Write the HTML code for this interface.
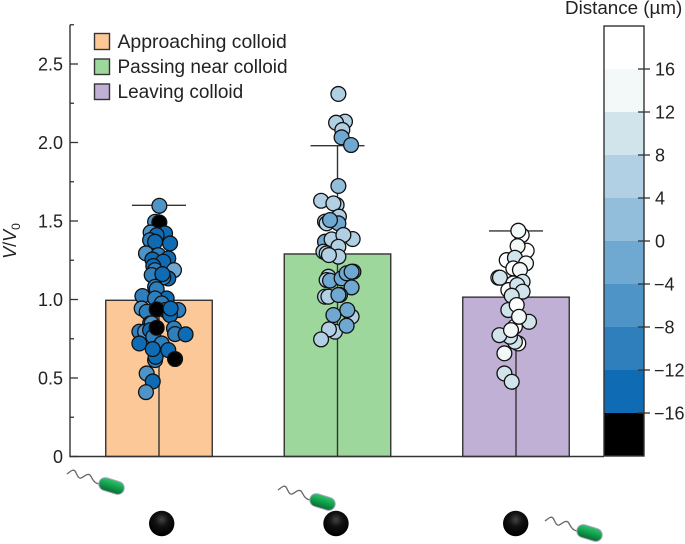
<!DOCTYPE html>
<html>
<head>
<meta charset="utf-8">
<style>
html,body{margin:0;padding:0;background:#fff;}
svg{display:block;font-family:"Liberation Sans",sans-serif;}
text{fill:#222;}
</style>
</head>
<body>
<svg id="chart" xmlns="http://www.w3.org/2000/svg" width="685" height="544" viewBox="0 0 685 544">
<defs>
<radialGradient id="ball-shade" cx="50%" cy="35%" r="60%">
<stop offset="0" stop-color="#444"/><stop offset="0.45" stop-color="#111"/><stop offset="1" stop-color="#000"/>
</radialGradient>
<linearGradient id="body-shade" x1="0" y1="0" x2="0" y2="1">
<stop offset="0" stop-color="#2fc46c"/><stop offset="0.55" stop-color="#0f9a48"/><stop offset="1" stop-color="#0a6a34"/>
</linearGradient>
</defs>
<g id="bars"></g>
<g id="errors"></g>
<g id="dots"></g>
<g id="axis"></g>
<g id="colorbar"></g>
<text x="565" y="14" font-size="18.800">Distance (µm)</text>
<text transform="translate(16,241) rotate(-90)" font-size="18" text-anchor="middle"><tspan font-style="italic">V</tspan>/<tspan font-style="italic">V</tspan><tspan font-size="12" dy="4">0</tspan></text>

<g>
<rect x="94.500" y="33.500" width="15" height="16" fill="#fdc897" stroke="#333" stroke-width="1.400"/>
<text x="117.500" y="48" font-size="19.400">Approaching colloid</text>
<rect x="94.500" y="59" width="15" height="15.500" fill="#9dd79c" stroke="#333" stroke-width="1.400"/>
<text x="117.500" y="73" font-size="19">Passing near colloid</text>
<rect x="94.500" y="84" width="15" height="15.500" fill="#c0b0d6" stroke="#333" stroke-width="1.400"/>
<text x="117.500" y="98" font-size="19">Leaving colloid</text>
</g>

<g>
<path d="M67 474 C71 471 73 469 75 471 C77 474 78 479 81 478 C84 477 87 473 90 475 C92 477 93 483 99 484" fill="none" stroke="#666" stroke-width="1.300"/>
<rect x="98.500" y="479.500" width="26" height="13" rx="6.500" transform="rotate(17 111.500 486)" fill="url(#body-shade)" stroke="#aab" stroke-width="1"/>
<circle cx="161.700" cy="523.500" r="12.700" fill="url(#ball-shade)"/>
</g>
<g>
<path d="M278 490 C282 487 284 485 286 487 C288 490 289 495 292 494 C295 493 298 489 301 491 C303 493 304 499 310 500" fill="none" stroke="#666" stroke-width="1.300"/>
<rect x="309.500" y="495.500" width="26" height="13" rx="6.500" transform="rotate(17 322.500 502)" fill="url(#body-shade)" stroke="#aab" stroke-width="1"/>
<circle cx="336" cy="523.500" r="12.700" fill="url(#ball-shade)"/>
</g>
<g>
<path d="M545 521 C549 518 551 516 553 518 C555 521 556 526 559 525 C562 524 565 520 568 522 C570 524 571 530 577 531" fill="none" stroke="#666" stroke-width="1.300"/>
<rect x="576.500" y="526.500" width="26" height="13" rx="6.500" transform="rotate(17 589.500 533)" fill="url(#body-shade)" stroke="#aab" stroke-width="1"/>
<circle cx="515.700" cy="523.500" r="12.700" fill="url(#ball-shade)"/>
</g>
</svg>
<script>
var barCategories = ['approaching', 'passing', 'leaving'];
var barMeans = [0.995, 1.29, 1.015];
var barColors = ['#fdc897', '#9dd79c', '#c0b0d6'];
var errorTops = [1.6, 1.98, 1.437];
var yTicks = [0, 0.5, 1.0, 1.5, 2.0, 2.5];
var yTickLabels = ['0', '0.5', '1.0', '1.5', '2.0', '2.5'];
var yMinorTicks = [0.25, 0.75, 1.25, 1.75, 2.25, 2.75];
var distanceTicks = [16, 12, 8, 4, 0, -4, -8, -12, -16];
var distanceTickLabels = ['16', '12', '8', '4', '0', '\u22124', '\u22128', '\u221212', '\u221216'];
var binEdges = [16, 12, 8, 4, 0, -4, -8, -12, -16];
var binColors = ['#ffffff', '#f3f9f8', '#d1e4ec', '#b2d0e4', '#92bedb', '#6fa9d2', '#4f94c7', '#2f7fbd', '#0f6cb4', '#000000'];

var approachJitter = [0.002,-0.022,0.002,-0.047,0.034,-0.013,-0.05,-0.022,0.062,-0.073,-0.004,0.052,-0.037,0.024,0.084,-0.032,-0.022,-0.041,0.052,0.024,0.019,-0.022,-0.013,-0.093,0.043,-0.022,0.015,-0.097,-0.069,0.108,0.034,0.062,-0.013,0.065,-0.05,-0.041,0.084,-0.11,-0.078,0.09,-0.05,0.149,-0.032,-0.11,0.015,-0.022,-0.019,0.052,-0.035,0.09,-0.069,-0.035,-0.073,-0.013];
var approachValues = [1.597,1.495,1.491,1.427,1.421,1.41,1.378,1.368,1.357,1.294,1.283,1.262,1.255,1.241,1.187,1.213,1.187,1.156,1.134,1.141,1.162,1.081,1.066,1.022,1.007,1.007,0.975,0.943,0.922,0.933,0.933,0.901,0.937,0.943,0.848,0.848,0.816,0.795,0.795,0.78,0.805,0.778,0.763,0.72,0.72,0.614,0.635,0.678,0.684,0.621,0.529,0.478,0.41,0.82];
var approachDistance = [-6,-6,-18,-6,-14,-14,-10,-14,-14,-6,-10,-14,-14,-14,-2,-14,-10,-10,-14,-10,-14,-10,-10,-10,-14,-10,-10,-6,-10,-10,-10,-14,-18,-14,-10,-6,-10,-10,-6,-10,-14,-14,-10,-14,-10,-10,-14,-14,-14,-18,-6,-14,-6,-18];

var passingJitter = [0.005,0.042,-0.008,0.027,0.023,0.076,0.005,-0.092,-0.005,-0.023,0.008,-0.07,-0.061,0.005,-0.042,-0.07,-0.033,0.085,0.033,0.005,-0.079,-0.061,0.005,-0.048,-0.051,-0.061,-0.042,0.023,0.051,0.089,0.079,0.079,-0.07,-0.051,0.014,0.005,0.079,-0.023,0.055,-0.014,0.051,-0.048,-0.092];
var passingValues = [2.309,2.133,2.126,2.08,2.033,1.984,1.723,1.629,1.602,1.612,1.528,1.496,1.485,1.485,1.506,1.368,1.383,1.385,1.411,1.336,1.305,1.294,1.273,1.283,1.145,1.124,1.12,1.135,1.167,1.177,1.177,1.077,1.018,1.018,1.029,1.029,0.891,0.901,0.933,0.795,0.833,0.81,0.746];
var passingDistance = [6,6,6,6,-2,-2,2,6,6,6,6,6,6,-2,-2,-2,6,6,6,6,6,6,6,6,6,6,-2,-2,-2,-2,-2,-2,6,6,-2,-2,6,-2,-2,6,-2,6,6];

var leavingJitter = [0.032,0.013,0.06,0.009,-0.052,-0.006,0.056,-0.015,0.022,-0.099,-0.09,0.037,-0.015,-0.043,0.007,0.037,-0.024,-0.043,0.004,0.073,-0.006,0.017,0.013,-0.006,-0.034,-0.093,-0.028,-0.065,-0.065,-0.024];
var leavingValues = [1.41,1.438,1.311,1.34,1.251,1.266,1.23,1.198,1.188,1.139,1.139,1.113,1.103,1.06,1.092,1.05,1.024,0.933,0.965,0.858,0.827,0.89,0.72,0.731,0.763,0.773,0.805,0.657,0.529,0.476];
var leavingDistance = [18,14,18,14,18,10,14,18,14,18,10,10,14,18,10,10,10,10,18,10,18,14,18,10,10,10,14,14,10,10];

var NS = 'http://www.w3.org/2000/svg';
function yScale(v) { return 456.5 - v * 157; }
function xScale(c) { return 159 + c * 178.5; }
function dScale(d) { return 241 - d * 10.75; }
function distanceColor(d) {
  for (var i = 0; i < binEdges.length; i++) {
    if (d >= binEdges[i]) return binColors[i];
  }
  return binColors[binColors.length - 1];
}
function make(tag, parent, attrs) {
  var el = document.createElementNS(NS, tag);
  for (var k in attrs) el.setAttribute(k, attrs[k]);
  parent.appendChild(el);
  return el;
}
var barsG = document.getElementById('bars');
var errorsG = document.getElementById('errors');
var dotsG = document.getElementById('dots');
var axisG = document.getElementById('axis');
var cbG = document.getElementById('colorbar');
var barW = 106.5;

barCategories.forEach(function (c, i) {
  var top = yScale(barMeans[i]);
  var r = make('rect', barsG, {x: xScale(i) - barW / 2, y: top, width: barW, height: yScale(0) - top, fill: barColors[i], stroke: '#333', 'stroke-width': 1.4});
  
  
  var v = make('line', errorsG, {x1: xScale(i), x2: xScale(i), y1: yScale(0), y2: yScale(errorTops[i]), stroke: '#333', 'stroke-width': 1.4});
  
  
  var h = make('line', errorsG, {x1: xScale(i) - 27, x2: xScale(i) + 27, y1: yScale(errorTops[i]), y2: yScale(errorTops[i]), stroke: '#333', 'stroke-width': 1.4});
  
  
});

function drawDots(cat, jitter, values, distance, name) {
  values.forEach(function (v, i) {
    var c = make('circle', dotsG, {cx: xScale(cat + jitter[i]), cy: yScale(v), r: 7.4, fill: distanceColor(distance[i]), stroke: '#111', 'stroke-width': 1.3});
    
    
  });
}
drawDots(0, approachJitter, approachValues, approachDistance, 'approaching');
drawDots(1, passingJitter, passingValues, passingDistance, 'passing');
drawDots(2, leavingJitter, leavingValues, leavingDistance, 'leaving');

var yAxisLine = make('path', axisG, {d: 'M' + 70 + ' ' + yScale(2.75) + ' V' + yScale(0) + ' H604', fill: 'none', stroke: '#333', 'stroke-width': 1.4});


yTicks.forEach(function (t, i) {
  var tick = make('line', axisG, {x1: 70, x2: 78, y1: yScale(t), y2: yScale(t), stroke: '#333', 'stroke-width': 1.3});
  
  
  var lab = make('text', axisG, {x: 63, y: yScale(t) + 6.5, 'font-size': 18, 'text-anchor': 'end'});
  
  
  lab.textContent = yTickLabels[i];
});
yMinorTicks.forEach(function (t) {
  var tick = make('line', axisG, {x1: 70, x2: 74, y1: yScale(t), y2: yScale(t), stroke: '#333', 'stroke-width': 1.3});
  
  
});

var bounds = [20].concat(binEdges, [-20]);
binColors.forEach(function (col, i) {
  var y0 = dScale(bounds[i]);
  var y1 = dScale(bounds[i + 1]);
  var seg = make('rect', cbG, {x: 604, y: y0, width: 40, height: y1 - y0, fill: col});
  
  
});
var frame = make('rect', cbG, {x: 604, y: dScale(20), width: 40, height: dScale(-20) - dScale(20), fill: 'none', stroke: '#333', 'stroke-width': 1.4});


distanceTicks.forEach(function (d, i) {
  var tick = make('line', cbG, {x1: 638, x2: 650, y1: dScale(d), y2: dScale(d), stroke: '#333', 'stroke-width': 1.3});
  
  
  var lab = make('text', cbG, {x: d < 0 ? 654 : 655, y: dScale(d) + 6.5, 'font-size': 18});
  
  
  lab.textContent = distanceTickLabels[i];
});
</script>
</body>
</html>
